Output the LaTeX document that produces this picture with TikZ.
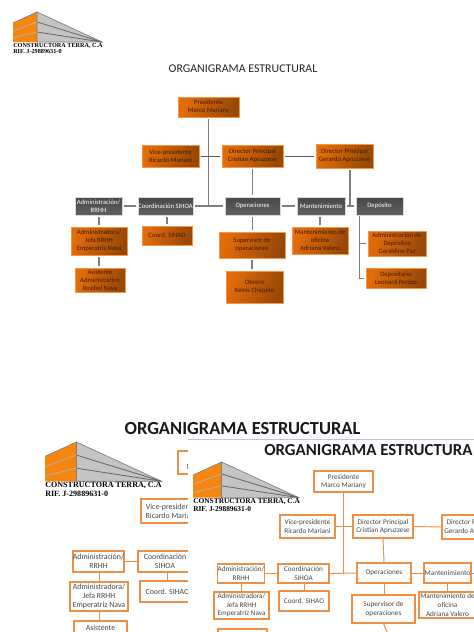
\documentclass[tikz,border=0pt]{standalone}
\usepackage{fontspec}
\setmainfont{Carlito}
\newfontfamily\logofont{Liberation Serif}[Scale=1]
\usetikzlibrary{calc}
\definecolor{orA}{HTML}{E36C0A}
\definecolor{orB}{HTML}{974806}
\definecolor{orL}{HTML}{F79646}
\definecolor{lineG}{HTML}{7F7F7F}
\definecolor{txtD}{HTML}{431B00}
\definecolor{logoO}{HTML}{F7860E}
\definecolor{logoG}{HTML}{C4C4C4}
\definecolor{bordO}{HTML}{ED8F45}
\tikzset{
  x=0.75pt,y=-0.75pt,
  every node/.style={inner sep=0pt,align=center},
  obox/.style={draw=orL,line width=0.4pt,left color=orA,right color=orB,shading angle=70,text=txtD,font=\fontsize{5}{6}\selectfont},
  gbox/.style={draw=white!85!black,line width=0.3pt,top color=black!72,bottom color=black!62,text=white,font=\fontsize{5}{6}\selectfont},
  wbox/.style={draw=bordO,line width=0.9pt,fill=white,text=black!72,font=\fontsize{5.9}{7}\selectfont},
  wthin/.style={draw=bordO,line width=0.8pt,fill=white,text=black!72,font=\fontsize{5.4}{6.4}\selectfont},
  conn/.style={draw=lineG,line width=1.1pt,shorten <=1.5pt,shorten >=1.5pt},
  connd/.style={draw=black!65,line width=0.6pt,shorten <=1pt,shorten >=1pt},
  wconn/.style={draw=bordO,line width=0.7pt},
}
\newcommand{\bx}[7]{\node[#6,minimum width={(#4-#2)*0.75pt},minimum height={(#5-#3)*0.75pt}] (#1) at ({(#2+#4)/2},{(#3+#5)/2}) {#7};}
\newcommand{\logo}[5]{%
  \begin{scope}[shift={(#1,#2)},scale=#3]
    \fill[logoG] (24,0) -- (89,30) -- (24,30) -- cycle;
    \fill[logoO] (0,11) -- (24,0) -- (24,30) -- (0,30) -- cycle;
    \draw[black!50,line width=0.5pt] (0,11) -- (24,0) -- (89,30) -- (24,30) -- (24,0);
    \draw[black!60,line width=0.6pt] (24,10) -- (89,30) (24,20) -- (89,30);
    \draw[white!70!black,line width=0.6pt] (0,19) -- (24,10) (0,26) -- (24,20);
    \node[anchor=west,font=\logofont\bfseries\fontsize{#4}{#4}\selectfont] (#5a) at (0,33.5) {CONSTRUCTORA TERRA, C.A};
    \node[anchor=west,font=\logofont\bfseries\fontsize{#4}{#4}\selectfont] (#5b) at (0,39.5) {RIF. J-29889631-0};
  \end{scope}}
\begin{document}
\begin{tikzpicture}
\useasboundingbox[fill=white] (0,0) rectangle (474,632);
% ---------- top logo and title
\logo{13}{12}{1}{4.65}{la}
\node[font=\fontsize{8.9}{11}\selectfont,text=black!85] (ttitle) at (243,69) {ORGANIGRAMA ESTRUCTURAL};
% ---------- top chart
\bx{tpres}{178}{97}{239}{117}{obox}{Presidente\\Marco Mariany}
\bx{tvice}{142}{145}{199}{167}{obox}{Vice-presidente\\Ricardo Mariani}
\bx{tdirc}{222}{145}{283}{167}{obox}{Director Principal\\Cristian Apruzzese}
\bx{tdirg}{316}{144}{373}{168}{obox}{Director Principal\\Gerardo Apruzzese}
\bx{tadm}{75}{197}{122}{215}{gbox}{Administración/\\RRHH}
\bx{tcoo}{139}{197}{192}{215}{gbox}{Coordinación SIHOA}
\bx{tope}{225}{197}{280}{215}{gbox}{Operaciones}
\bx{tman}{297}{197}{345}{215}{gbox}{Mantenimiento}
\bx{tdep}{356}{197}{403}{215}{gbox}{Depósito}
\bx{tjefa}{71}{227}{127}{255}{obox}{Administradora/\\Jefa RRHH\\Emperatriz Nava}
\bx{tsih}{142}{226}{192}{245}{obox}{Coord. SIHAO}
\bx{tasi}{75}{268}{125}{292}{obox}{Asistente\\Administrativo\\Rosibel Nava}
\bx{tsup}{219}{232}{285}{258}{obox}{Supervisor de\\operaciones}
\bx{tobr}{226}{271}{283}{303}{obox}{Obrero\\Kelvis Chiquito}
\bx{tofi}{292}{227}{348}{254}{obox}{Mantenimiento de\\oficina\\Adriana Valero}
\bx{tadp}{368}{231}{426}{256}{obox}{Administración de\\Depósitos\\Geraldine Paz}
\bx{tdpo}{366}{268}{426}{288}{obox}{Depositario\\Leonard Perozo}
\coordinate (tjd) at (350,205);
\coordinate (tdx) at (359.5,215);
\draw[conn,shorten >=0pt] (tpres.south) -- (tpres.south |- tcoo.east);
\draw[connd] (tvice.east) -- (tdirc.west);
\draw[connd] (tdirc.east) -- (tdirg.west);
\draw[conn] (tdirc.south) -- (tope.north);
\draw[conn] (tadm.east) -- (tcoo.west);
\draw[conn] (tcoo.east) -- (tope.west);
\draw[conn] (tope.east) -- (tman.west);
\draw[conn] (tman.east) -- (tdep.west);
\draw[conn,shorten >=0pt,line width=0.8pt] (tdirg.south -| tjd) -- (tjd);
\draw[conn] (tadm.south -| tjefa.north) -- (tjefa.north);
\draw[conn] (tjefa.south) -- (tjefa.south |- tasi.north);
\draw[conn] (tsih.north |- tcoo.south) -- (tsih.north);
\draw[conn] (tope.south) -- (tope.south |- tsup.north);
\draw[conn] (tsup.south) -- (tsup.south |- tobr.north);
\draw[conn] (tofi.north |- tman.south) -- (tofi.north);
\draw[conn,line width=0.7pt,shorten <=1pt] (tdx) |- (tdpo.west);
\draw[conn,line width=0.7pt,shorten <=0pt] (tdx |- tadp.west) -- (tadp.west);
% ---------- second slide
\begin{scope}
\clip (0,400) rectangle (188,632);
\bx{sadm}{74}{551}{123}{572}{wbox}{Administración/\\RRHH}
\bx{scoo}{138}{551}{192}{572}{wbox}{Coordinación\\SIHOA}
\bx{spres}{178}{451}{244}{474}{wbox}{Presidente\\Marco Mariany}
\bx{svice}{141}{499}{201}{523}{wbox}{Vice-presidente\\Ricardo Mariani}
\bx{sjefa}{70}{582}{128}{611}{wbox}{Administradora/\\Jefa RRHH\\Emperatriz Nava}
\bx{ssih}{140}{581}{195}{602}{wbox}{Coord. SIHAO}
\bx{sasi}{74}{621}{127}{634}{wbox}{Asistente}
\draw[wconn] (sadm.east) -- (scoo.west);
\draw[wconn] (sadm.south -| sjefa.north) -- (sjefa.north);
\draw[wconn] (sjefa.south) -- (sjefa.south |- sasi.north);
\draw[wconn] (ssih.north |- scoo.south) -- (ssih.north);
\end{scope}
\logo{45}{442}{1.31}{6.05}{lb}
\node[font=\bfseries\fontsize{13.8}{16}\selectfont,text=black!90] (stitle) at (242.5,429) {ORGANIGRAMA ESTRUCTURAL};
% ---------- third slide
\begin{scope}
\clip (188,439) rectangle (474,632);
\fill[white] (188,439) rectangle (474,632);
\draw[blue!40!gray!35,line width=0.6pt] (188,439.5) -- (474,439.5);
\node[anchor=west,font=\bfseries\fontsize{12.6}{15}\selectfont,text=black!90] (ztitle) at (264,450) {ORGANIGRAMA ESTRUCTURA};
\bx{zpres}{314}{471}{373}{492}{wthin}{Presidente\\Marco Mariany}
\bx{zvice}{280}{515}{335}{538}{wthin}{Vice-presidente\\Ricardo Mariani}
\bx{zdirc}{353}{515}{413}{538}{wthin}{Director Principal\\Cristian Apruzzese}
\bx{zdirg}{442}{515}{502}{539}{wthin}{Director Principal\\Gerardo Apruzzese}
\bx{zadm}{218}{564}{264}{583}{wthin}{Administración/\\RRHH}
\bx{zcoo}{278}{564}{329}{583}{wthin}{Coordinación\\SIHOA}
\bx{zope}{357}{563}{411}{583}{wthin}{Operaciones}
\bx{zman}{424}{563}{471}{583}{wthin}{Mantenimiento}
\bx{zjefa}{214}{592}{269}{619}{wthin}{Administradora/\\Jefa RRHH\\Emperatriz Nava}
\bx{zsih}{279}{591}{329}{611}{wthin}{Coord. SIHAO}
\bx{zsup}{352}{595}{415}{623}{wthin}{Supervisor de\\operaciones}
\bx{zofi}{419}{592}{476}{618}{wthin}{Mantenimiento de\\oficina\\Adriana Valero}
\bx{zasi}{218}{629}{267}{640}{wthin}{}
\coordinate (zedge) at (474,573);
\coordinate (zbot) at (387,632);
\draw[wconn] (zpres.south) -- (zpres.south |- zcoo.east);
\draw[wconn] (zvice.east) -- (zdirc.west);
\draw[wconn] (zdirc.east) -- (zdirg.west);
\draw[wconn] (zdirc.south) -- (zope.north);
\draw[wconn] (zadm.east) -- (zcoo.west);
\draw[wconn] (zcoo.east) -- (zope.west);
\draw[wconn] (zope.east) -- (zman.west);
\draw[wconn] (zman.east) -- (zedge);
\draw[wconn] (zadm.south) -- (zadm.south |- zjefa.north);
\draw[wconn] (zsih.north |- zcoo.south) -- (zsih.north);
\draw[wconn] (zope.south) -- (zope.south |- zsup.north);
\draw[wconn] (zsup.south) -- (zbot);
\draw[wconn] (zofi.north |- zman.south) -- (zofi.north);
\end{scope}
\logo{193}{462}{1.19}{5.55}{lc}
\end{tikzpicture}
\end{document}
